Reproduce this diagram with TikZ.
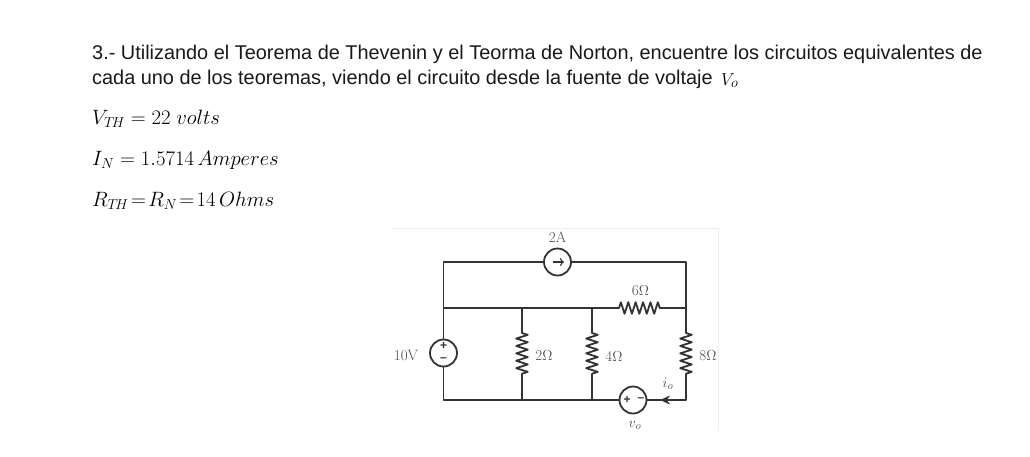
\documentclass[tikz,border=0pt]{standalone}
\usepackage{amssymb}
\usepackage{fontspec}
\setmainfont{Liberation Sans}
\newfontfamily\serifcir{Latin Modern Roman}
\usetikzlibrary{arrows.meta,positioning,decorations.pathmorphing}
\definecolor{wirecol}{gray}{0.2}
\definecolor{labcol}{gray}{0.3}
\tikzset{
  wire/.style={draw=wirecol,line width=1.8pt,line join=round},
  resist/.style={wire,decorate,decoration={zigzag,amplitude=5.8pt,segment length=7.4pt,pre length=1pt,post length=1pt}},
  source/.style={circle,draw=wirecol,line width=1.8pt,fill=white,minimum size=27pt,inner sep=0pt},
  sign/.style={text=wirecol,inner sep=0pt,font=\bfseries\fontsize{12}{12}\selectfont},
  lab/.style={text=labcol,inner sep=0pt,font=\serifcir\fontsize{15}{16}\selectfont},
  para/.style={anchor=base west,inner sep=0pt,text=black!90,font=\fontsize{19.9}{22}\selectfont},
  result/.style={anchor=base west,inner sep=0pt,text=black,font=\fontsize{20.5}{22}\selectfont},
  frameline/.style={draw=black!7,line width=0.8pt}
}
\begin{document}
\begin{tikzpicture}[x=1pt,y=-1pt]
  \useasboundingbox (0,0) rectangle (1030,456);
  \node[para] (lineone) at (92,59) {3.- Utilizando el Teorema de Thevenin y el Teorma de Norton, encuentre los circuitos equivalentes de};
  \node[para] (linetwo) at (92,84) {cada uno de los teoremas, viendo el circuito desde la fuente de voltaje};
  \node[result,font=\fontsize{19}{20}\selectfont] (vzero) at (721,85) {$V_o$};
  \node[result] (vth) at (92,124) {$V_{T\!H}=22\;volts$};
  \node[result] (inort) at (92,165) {$I_N=1.5714\,Amperes$};
  \node[result] (rth) at (92,206) {$R_{T\!H}\!=\!R_N\!=\!14\,Ohms$};

  \coordinate (frameA) at (392,228);
  \coordinate (frameB) at (718,228);
  \coordinate (frameC) at (718,431);
  \draw[frameline] (frameA) -- (frameB) -- (frameC);

  \coordinate (topL) at (443.5,262);
  \coordinate (topR) at (686,262);
  \coordinate (midL) at (443.5,308);
  \coordinate (midA) at (522,308);
  \coordinate (midB) at (592,308);
  \coordinate (midR) at (686,308);
  \coordinate (botL) at (443.5,400);
  \coordinate (botA) at (522,400);
  \coordinate (botB) at (592,400);
  \coordinate (botR) at (686,400);
  \coordinate (arrowtip) at (660,400);
  \coordinate (sixA) at (618,308);
  \coordinate (sixB) at (663,308);
  \coordinate (twoA) at (522,332);
  \coordinate (twoB) at (522,375);
  \coordinate (fourA) at (592,332);
  \coordinate (fourB) at (592,375);
  \coordinate (eightA) at (686,332);
  \coordinate (eightB) at (686,375);

  \draw[wire] (midL) -- (topL) -- (topR) -- (midR);
  \draw[wire] (eightB) -- (botR) -- (botL) -- (midL);
  \draw[wire] (midL) -- (sixA);
  \draw[wire] (sixB) -- (midR);
  \draw[wire] (midA) -- (twoA);
  \draw[wire] (twoB) -- (botA);
  \draw[wire] (midB) -- (fourA);
  \draw[wire] (fourB) -- (botB);
  \draw[wire] (midR) -- (eightA);
  \draw[resist] (sixA) -- (sixB);
  \draw[resist] (twoA) -- (twoB);
  \draw[resist] (fourA) -- (fourB);
  \draw[resist] (eightA) -- (eightB);

  \node[source] (isrc) at (557.5,262) {};
  \coordinate (isrcA) at (552.5,262);
  \coordinate (isrcB) at (564,262);
  \draw[draw=wirecol,line width=1.2pt,-{To[length=4pt,width=8pt]}] (isrcA) -- (isrcB);
  \node[source] (vsrc) at (443.5,353) {};
  \node[sign] (vplus) at (443.5,346) {+};
  \node[sign] (vminus) at (443.5,359.5) {--};
  \node[source] (vosrc) at (633,400) {};
  \node[sign] (voplus) at (627,400) {+};
  \node[sign] (vominus) at (641,400) {--};
  \draw[wire,-{Stealth[length=10pt,width=9pt]}] (botR) -- (arrowtip);

  \node[lab] (labtwoA) at (557.5,237) {2A};
  \node[lab] (labsix) at (640.5,290.5) {6$\Omega$};
  \node[lab] (labten) at (406,355) {10V};
  \node[lab] (labtwo) at (544,356) {2$\Omega$};
  \node[lab] (labfour) at (614,356) {4$\Omega$};
  \node[lab] (labeight) at (708,356) {8$\Omega$};
  \node[lab] (labio) at (668,384) {$i_o$};
  \node[lab] (labvo) at (635,425) {$v_o$};
\end{tikzpicture}
\end{document}
